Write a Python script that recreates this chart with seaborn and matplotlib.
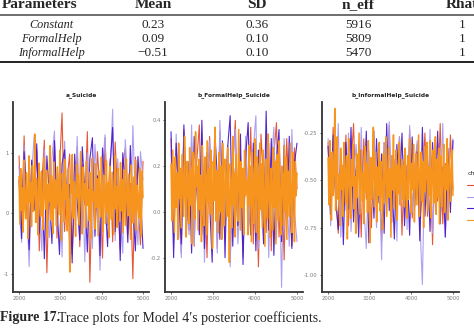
import numpy as np
import pandas as pd
import matplotlib
matplotlib.use("Agg")
import matplotlib.pyplot as plt
from matplotlib.lines import Line2D
import seaborn as sns

# ---------------- table data ----------------
tbl_header = ["Parameters", "Mean", "SD", "n_eff", "Rhat"]
tbl_params = ["Constant", "FormalHelp", "InformalHelp"]
tbl_mean = ["0.23", "0.09", "\u22120.51"]
tbl_sd = ["0.36", "0.10", "0.10"]
tbl_neff = ["5916", "5809", "5470"]
tbl_rhat = ["1", "1", "1"]

# ---------------- trace data (thinned draws, iterations 2001-5000) ----------------
panel_titles = ["a_Suicide", "b_FormalHelp_Suicide", "b_InformalHelp_Suicide"]
chains = ["1", "2", "3", "4"]
chain_colors = ["#E2502E", "#A99CF2", "#4A1CCB", "#F7941D"]

a_chain1 = [0.95, -0.25, 1.28, 0.1, -0.52, 0.84, 0.31, 1.05, -0.62, 0.47, 1.21, -0.98, 0.66, 0.02, 1.15, -0.41, 0.73, 1.66, -0.3, 0.55, 0.98, -0.68, 0.24, 1.1, -0.55, 0.81, 0.15, 1.35, -1.14, 0.6, -0.2, 1.02, 0.38, -0.74, 1.25, 0.07, 0.9, -0.47, 1.18, 0.28, -0.6, 0.77, 1.08, -0.35, 0.5, -1.08, 0.93, 0.2, -0.52, 0.86]
a_chain2 = [0.78, -0.48, 1.12, 0.2, -0.88, 0.65, 1.3, -0.15, 0.42, -0.62, 1.05, 0.11, -0.4, 0.92, 1.36, -0.28, 0.58, -0.72, 1.19, 0.33, -0.5, 0.86, 0.05, 1.27, -0.36, 0.69, -0.8, 1.0, 0.25, -0.58, 1.14, 0.47, -0.94, 0.74, 1.3, -0.2, 0.6, 1.72, -0.45, 0.9, 0.12, -0.66, 1.22, 0.38, -0.3, 1.45, 0.16, -0.52, 1.02, 0.55]
a_chain3 = [0.55, -0.42, 1.02, 0.22, -0.6, 0.88, 0.05, 1.15, -0.33, 0.7, -0.75, 0.95, 0.3, -0.5, 1.2, 0.12, -0.68, 0.82, 1.05, -0.25, 0.48, -0.82, 0.98, 0.18, -0.44, 1.1, 0.36, -0.64, 0.9, 1.25, -0.38, 0.62, -0.7, 1.08, 0.26, -0.55, 0.8, 1.42, -0.3, 0.72, -0.78, 1.0, 0.4, -0.48, 1.12, 0.08, -0.62, 0.94, 0.32, -0.58]
a_chain4 = [0.61, -0.18, 0.74, 0.05, 0.42, -0.31, 0.88, 0.12, -0.09, 0.67, 0.29, -0.42, 0.95, 0.18, 0.51, -0.22, 0.79, 0.03, 0.36, 1.31, -0.15, 0.58, 0.21, -0.36, 0.83, 0.44, -0.05, 0.69, 0.14, -0.27, 0.92, 0.33, 0.07, 0.71, -0.39, 0.48, 0.19, 1.12, -0.11, 0.62, 0.26, -0.33, 0.85, 0.09, 0.55, -0.21, 0.77, 0.37, -0.02, 1.04, 0.16, -0.45, 0.66, 0.31, -0.14, 0.89, 0.23, 0.47, -0.29, 0.73, 0.11, -0.97, 0.59, 0.34, 0.97, -0.08, 0.52, 0.17, -0.38, 0.81, 0.27, 0.64, -0.19, 0.43, 1.02, 0.06, -0.34, 0.76, 0.22, 0.49, -0.24, 0.86, 0.13, 0.39, -0.12, 0.68, 0.28, -0.41, 0.91, 0.2,
            0.35, -0.26, 0.82, 0.1, 0.57, -0.37, 0.7, 0.24, -0.06, 0.93, 0.15, -0.3, 0.63, 0.4, -0.17, 0.87, 0.01, 0.5, -0.4, 0.78, 0.3, -0.1, 0.68, 0.19, -0.35, 0.96, 0.08, 0.45, -0.23, 0.74, 0.25, -0.13, 0.84, 0.04, 0.56, -0.32, 0.72, 0.18, -0.2, 0.9, 0.32, -0.04, 0.65, 0.12, -0.43, 0.8, 0.38, -0.16, 0.6, 0.0, 0.88, -0.28, 0.46, 0.21, -0.08, 0.75, 0.14, -0.37, 0.7, 0.26]

b_chain1 = [0.32, -0.12, 0.28, 0.05, -0.18, 0.36, 0.1, -0.08, 0.3, -0.15, 0.22, 0.38, -0.1, 0.14, -0.2, 0.33, 0.02, 0.26, -0.16, 0.35, 0.08, -0.12, 0.29, -0.22, 0.18, 0.4, -0.06, 0.24, -0.18, 0.31, 0.0, 0.37, -0.14, 0.2, -0.24, 0.34, 0.12, -0.09, 0.3, -0.17, 0.25, 0.39, -0.11, 0.16, -0.21, 0.32, 0.04, -0.15, 0.28, 0.1]
b_chain2 = [0.27, -0.16, 0.34, 0.0, -0.2, 0.3, 0.12, -0.1, 0.38, -0.14, 0.2, -0.05, 0.35, -0.22, 0.16, 0.31, -0.12, 0.24, -0.18, 0.4, 0.06, -0.08, 0.29, -0.24, 0.22, 0.36, -0.14, 0.1, -0.2, 0.33, 0.03, -0.1, 0.27, 0.42, -0.16, 0.18, -0.06, 0.3, -0.2, 0.2, 0.37, -0.12, 0.25, -0.33, 0.32, 0.08, -0.15, 0.36, 0.0, -0.13]
b_chain3 = [0.35, -0.2, 0.3, 0.08, -0.14, 0.38, -0.08, 0.22, -0.18, 0.33, 0.12, -0.1, 0.4, -0.16, 0.26, 0.04, -0.22, 0.36, 0.15, -0.12, 0.31, -0.2, 0.28, 0.42, -0.15, 0.19, -0.06, 0.34, -0.23, 0.24, 0.39, -0.1, 0.3, -0.17, 0.27, 0.1, -0.14, 0.44, -0.08, 0.32, -0.19, 0.23, 0.36, -0.13, 0.29, -0.05, 0.33, -0.16, 0.21, 0.3]
b_chain4 = [0.21, -0.04, 0.27, 0.1, -0.09, 0.24, 0.02, 0.17, -0.12, 0.3, 0.06, 0.19, -0.07, 0.25, 0.12, -0.02, 0.33, 0.08, -0.11, 0.22, 0.15, -0.05, 0.28, 0.03, 0.18, -0.14, 0.26, 0.09, -0.03, 0.35, 0.11, 0.2, -0.08, 0.23, 0.01, 0.16, -0.13, 0.29, 0.07, -0.06, 0.24, 0.13, -0.1, 0.31, 0.04, 0.19, -0.01, 0.27, 0.1, -0.16, 0.22, 0.05, 0.37, -0.04, 0.18, 0.12, -0.09, 0.26, 0.0, 0.2, -0.12, 0.3, 0.08, -0.06, 0.23, 0.14, -0.02, 0.28, 0.06, -0.22, 0.21, 0.11, -0.07, 0.33, 0.03, 0.17, -0.11, 0.25, 0.09, -0.04, 0.36, 0.13, -0.08, 0.22, 0.02, 0.19, -0.1, 0.27, 0.07, 0.15,
            0.12, -0.1, 0.29, 0.03, 0.2, -0.13, 0.26, 0.07, -0.05, 0.32, 0.1, -0.09, 0.24, 0.15, -0.12, 0.3, 0.01, 0.21, -0.07, 0.27, 0.05, -0.15, 0.23, 0.13, -0.03, 0.34, 0.08, -0.11, 0.19, 0.11, -0.08, 0.28, 0.02, 0.22, -0.14, 0.25, 0.09, -0.04, 0.31, 0.06, -0.1, 0.2, 0.16, -0.06, 0.29, 0.0, 0.24, -0.12, 0.18, 0.12, -0.02, 0.3, 0.04, -0.09, 0.26, 0.14, -0.13, 0.22, 0.07, 0.17]

c_chain1 = [-0.3, -0.7, -0.22, -0.58, -0.78, -0.35, -0.64, -0.26, -0.74, -0.42, -0.2, -0.68, -0.33, -0.8, -0.28, -0.6, -0.38, -0.75, -0.24, -0.66, -0.45, -0.82, -0.3, -0.57, -0.21, -0.72, -0.4, -0.62, -0.27, -0.79, -0.36, -0.65, -0.23, -0.7, -0.44, -0.31, -0.77, -0.52, -0.25, -0.69, -0.37, -0.84, -0.29, -0.61, -0.2, -0.73, -0.41, -0.66, -0.26, -0.55]
c_chain2 = [-0.28, -0.74, -0.35, -0.62, -0.2, -0.8, -0.4, -0.66, -0.25, -0.77, -0.46, -0.31, -0.7, -0.22, -0.63, -0.86, -0.34, -0.58, -0.24, -0.75, -0.43, -0.92, -0.3, -0.61, -0.19, -0.72, -0.39, -0.82, -0.27, -0.6, -0.35, -0.76, -0.21, -0.67, -0.42, -0.29, -0.71, -1.05, -0.33, -0.64, -0.23, -0.78, -0.45, -0.3, -0.69, -0.2, -0.8, -0.38, -0.6, -0.28]
c_chain3 = [-0.32, -0.68, -0.26, -0.6, -0.76, -0.38, -0.84, -0.3, -0.65, -0.22, -0.72, -0.44, -0.8, -0.34, -0.58, -0.24, -0.83, -0.4, -0.7, -0.28, -0.62, -0.36, -0.78, -0.2, -0.66, -0.46, -0.81, -0.31, -0.57, -0.25, -0.74, -0.42, -0.79, -0.27, -0.64, -0.35, -0.82, -0.22, -0.69, -0.39, -0.77, -0.3, -0.6, -0.24, -0.73, -0.43, -0.8, -0.33, -0.67, -0.29]
c_chain4 = [-0.38, -0.63, -0.29, -0.52, -0.71, -0.35, -0.58, -0.44, -0.12, -0.66, -0.4, -0.27, -0.6, -0.47, -0.74, -0.33, -0.55, -0.42, -0.69, -0.3, -0.5, -0.62, -0.37, -0.81, -0.45, -0.28, -0.57, -0.7, -0.39, -0.53, -0.31, -0.65, -0.48, -0.78, -0.36, -0.59, -0.43, -0.25, -0.68, -0.51, -0.34, -0.61, -0.46, -0.73, -0.32, -0.56, -0.41, -0.67, -0.29, -0.54, -0.83, -0.38, -0.6, -0.45, -0.22, -0.64, -0.49, -0.35, -0.72, -0.43, -0.58, -0.3, -0.66, -0.4, -0.53, -0.76, -0.36, -0.62, -0.47, -0.27, -0.69, -0.5, -0.33, -0.59, -0.44, -0.8, -0.37, -0.55, -0.26, -0.65, -0.48, -0.34, -0.71, -0.42, -0.57, -0.3, -0.63, -0.46, -0.39, -0.6,
            -0.42, -0.64, -0.33, -0.57, -0.7, -0.37, -0.6, -0.45, -0.28, -0.67, -0.41, -0.55, -0.31, -0.72, -0.48, -0.36, -0.63, -0.44, -0.26, -0.69, -0.5, -0.35, -0.61, -0.4, -0.75, -0.32, -0.56, -0.46, -0.3, -0.66, -0.43, -0.58, -0.29, -0.7, -0.47, -0.34, -0.62, -0.52, -0.27, -0.68, -0.39, -0.59, -0.33, -0.73, -0.45, -0.37, -0.64, -0.49, -0.31, -0.67, -0.42, -0.55, -0.28, -0.71, -0.44, -0.36, -0.61, -0.5, -0.34, -0.58]

iter_start, iter_end = 2001, 5000

panel_chains = [
    [a_chain1, a_chain2, a_chain3, a_chain4],
    [b_chain1, b_chain2, b_chain3, b_chain4],
    [c_chain1, c_chain2, c_chain3, c_chain4],
]
y_ticks = [[-1, 0, 1], [-0.2, 0.0, 0.2, 0.4], [-1.0, -0.75, -0.5, -0.25]]
y_ticklabels = [["-1", "0", "1"], ["-0.2", "0.0", "0.2", "0.4"], ["-1.00", "-0.75", "-0.50", "-0.25"]]
y_limits = [(-1.30, 1.84), (-0.35, 0.48), (-1.09, -0.086)]
x_ticks = [2000, 3000, 4000, 5000]

rows = []
for title, chs in zip(panel_titles, panel_chains):
    for ch, vals in zip(chains, chs):
        its = np.linspace(iter_start, iter_end, len(vals))
        for it, v in zip(its, vals):
            rows.append({"param": title, "chain": ch, "iteration": it, "value": v})
df = pd.DataFrame(rows)

# ---------------- figure ----------------
sns.set_theme(style="white")
W, H = 474, 328
fig = plt.figure(figsize=(W / 100, H / 100), dpi=100)
fig.patch.set_facecolor("white")

def fx(px):
    return px / W

def fy(py):
    return 1 - py / H

serif = ["Liberation Serif", "DejaVu Serif"]

# table
col_x = [40, 153, 257, 358, 462]
for cx, h in zip(col_x, tbl_header):
    fig.text(fx(cx), fy(5), h, ha="center", va="center", fontsize=11, fontweight="bold", family=serif)
fig.add_artist(Line2D([0, 1], [fy(14.8), fy(14.8)], color="#555555", lw=1.2))
row_y = [25, 39.3, 53.3]
for i, ry in enumerate(row_y):
    fig.text(fx(51), fy(ry), tbl_params[i], ha="center", va="center", fontsize=8.8,
             style="italic", family=serif)
    for cx, col in zip(col_x[1:], [tbl_mean, tbl_sd, tbl_neff, tbl_rhat]):
        fig.text(fx(cx), fy(ry), col[i], ha="center", va="center", fontsize=9.5, family=serif)
fig.add_artist(Line2D([0, 1], [fy(61.8), fy(61.8)], color="#222222", lw=1.4))

# panels
ax_px = [(12.8, 149.2), (164.7, 303.3), (321.8, 459.2)]
top_px, bot_px = 102, 292
chain_lw = {"1": 0.8, "2": 0.8, "3": 0.8, "4": 1.1}
for k, (l, r) in enumerate(ax_px):
    ax = fig.add_axes([fx(l), fy(bot_px), (r - l) / W, (bot_px - top_px) / H])
    sub = df[df["param"] == panel_titles[k]]
    for ch, col in zip(chains, chain_colors):
        sns.lineplot(data=sub[sub["chain"] == ch], x="iteration", y="value", color=col,
                     estimator=None, sort=False, lw=chain_lw[ch], alpha=0.95 if ch != "4" else 1.0,
                     legend=False, ax=ax)
    ax.set_xlim(1850, 5150)
    ax.set_ylim(*y_limits[k])
    ax.set_xticks(x_ticks)
    ax.set_xticklabels([str(t) for t in x_ticks])
    ax.set_yticks(y_ticks[k])
    ax.set_yticklabels(y_ticklabels[k])
    ax.set_xlabel("")
    ax.set_ylabel("")
    ax.set_title(panel_titles[k], fontsize=4.2, fontweight="bold", color="#222222", pad=4)
    ax.tick_params(axis="both", labelsize=3.8, labelcolor="#7a7a7a", length=1.5, width=0.6,
                   color="#444444", pad=1.5, left=True, bottom=True)
    for s in ["top", "right"]:
        ax.spines[s].set_visible(False)
    for s in ["left", "bottom"]:
        ax.spines[s].set_color("#333333")
        ax.spines[s].set_linewidth(1.3)
    ax.set_facecolor("white")

# legend (partly cut off at right edge, as in reference)
handles = [Line2D([0], [0], color=c, lw=0.8) for c in chain_colors]
leg = fig.legend(handles, chains, title="chain", loc="upper left",
                 bbox_to_anchor=(fx(465), fy(169)), frameon=False, fontsize=4,
                 title_fontsize=4.5, handlelength=1.5, labelspacing=1.2, borderaxespad=0)
leg._legend_box.align = "left"

# caption
fig.text(0.0, fy(318), "Figure 17.", ha="left", va="center", fontsize=10, fontweight="bold", family=serif)
fig.text(fx(58), fy(318), "Trace plots for Model 4\u2032s posterior coefficients.", ha="left", va="center",
         fontsize=10, family=serif)

fig.savefig("out.png", dpi=100, facecolor="white")
